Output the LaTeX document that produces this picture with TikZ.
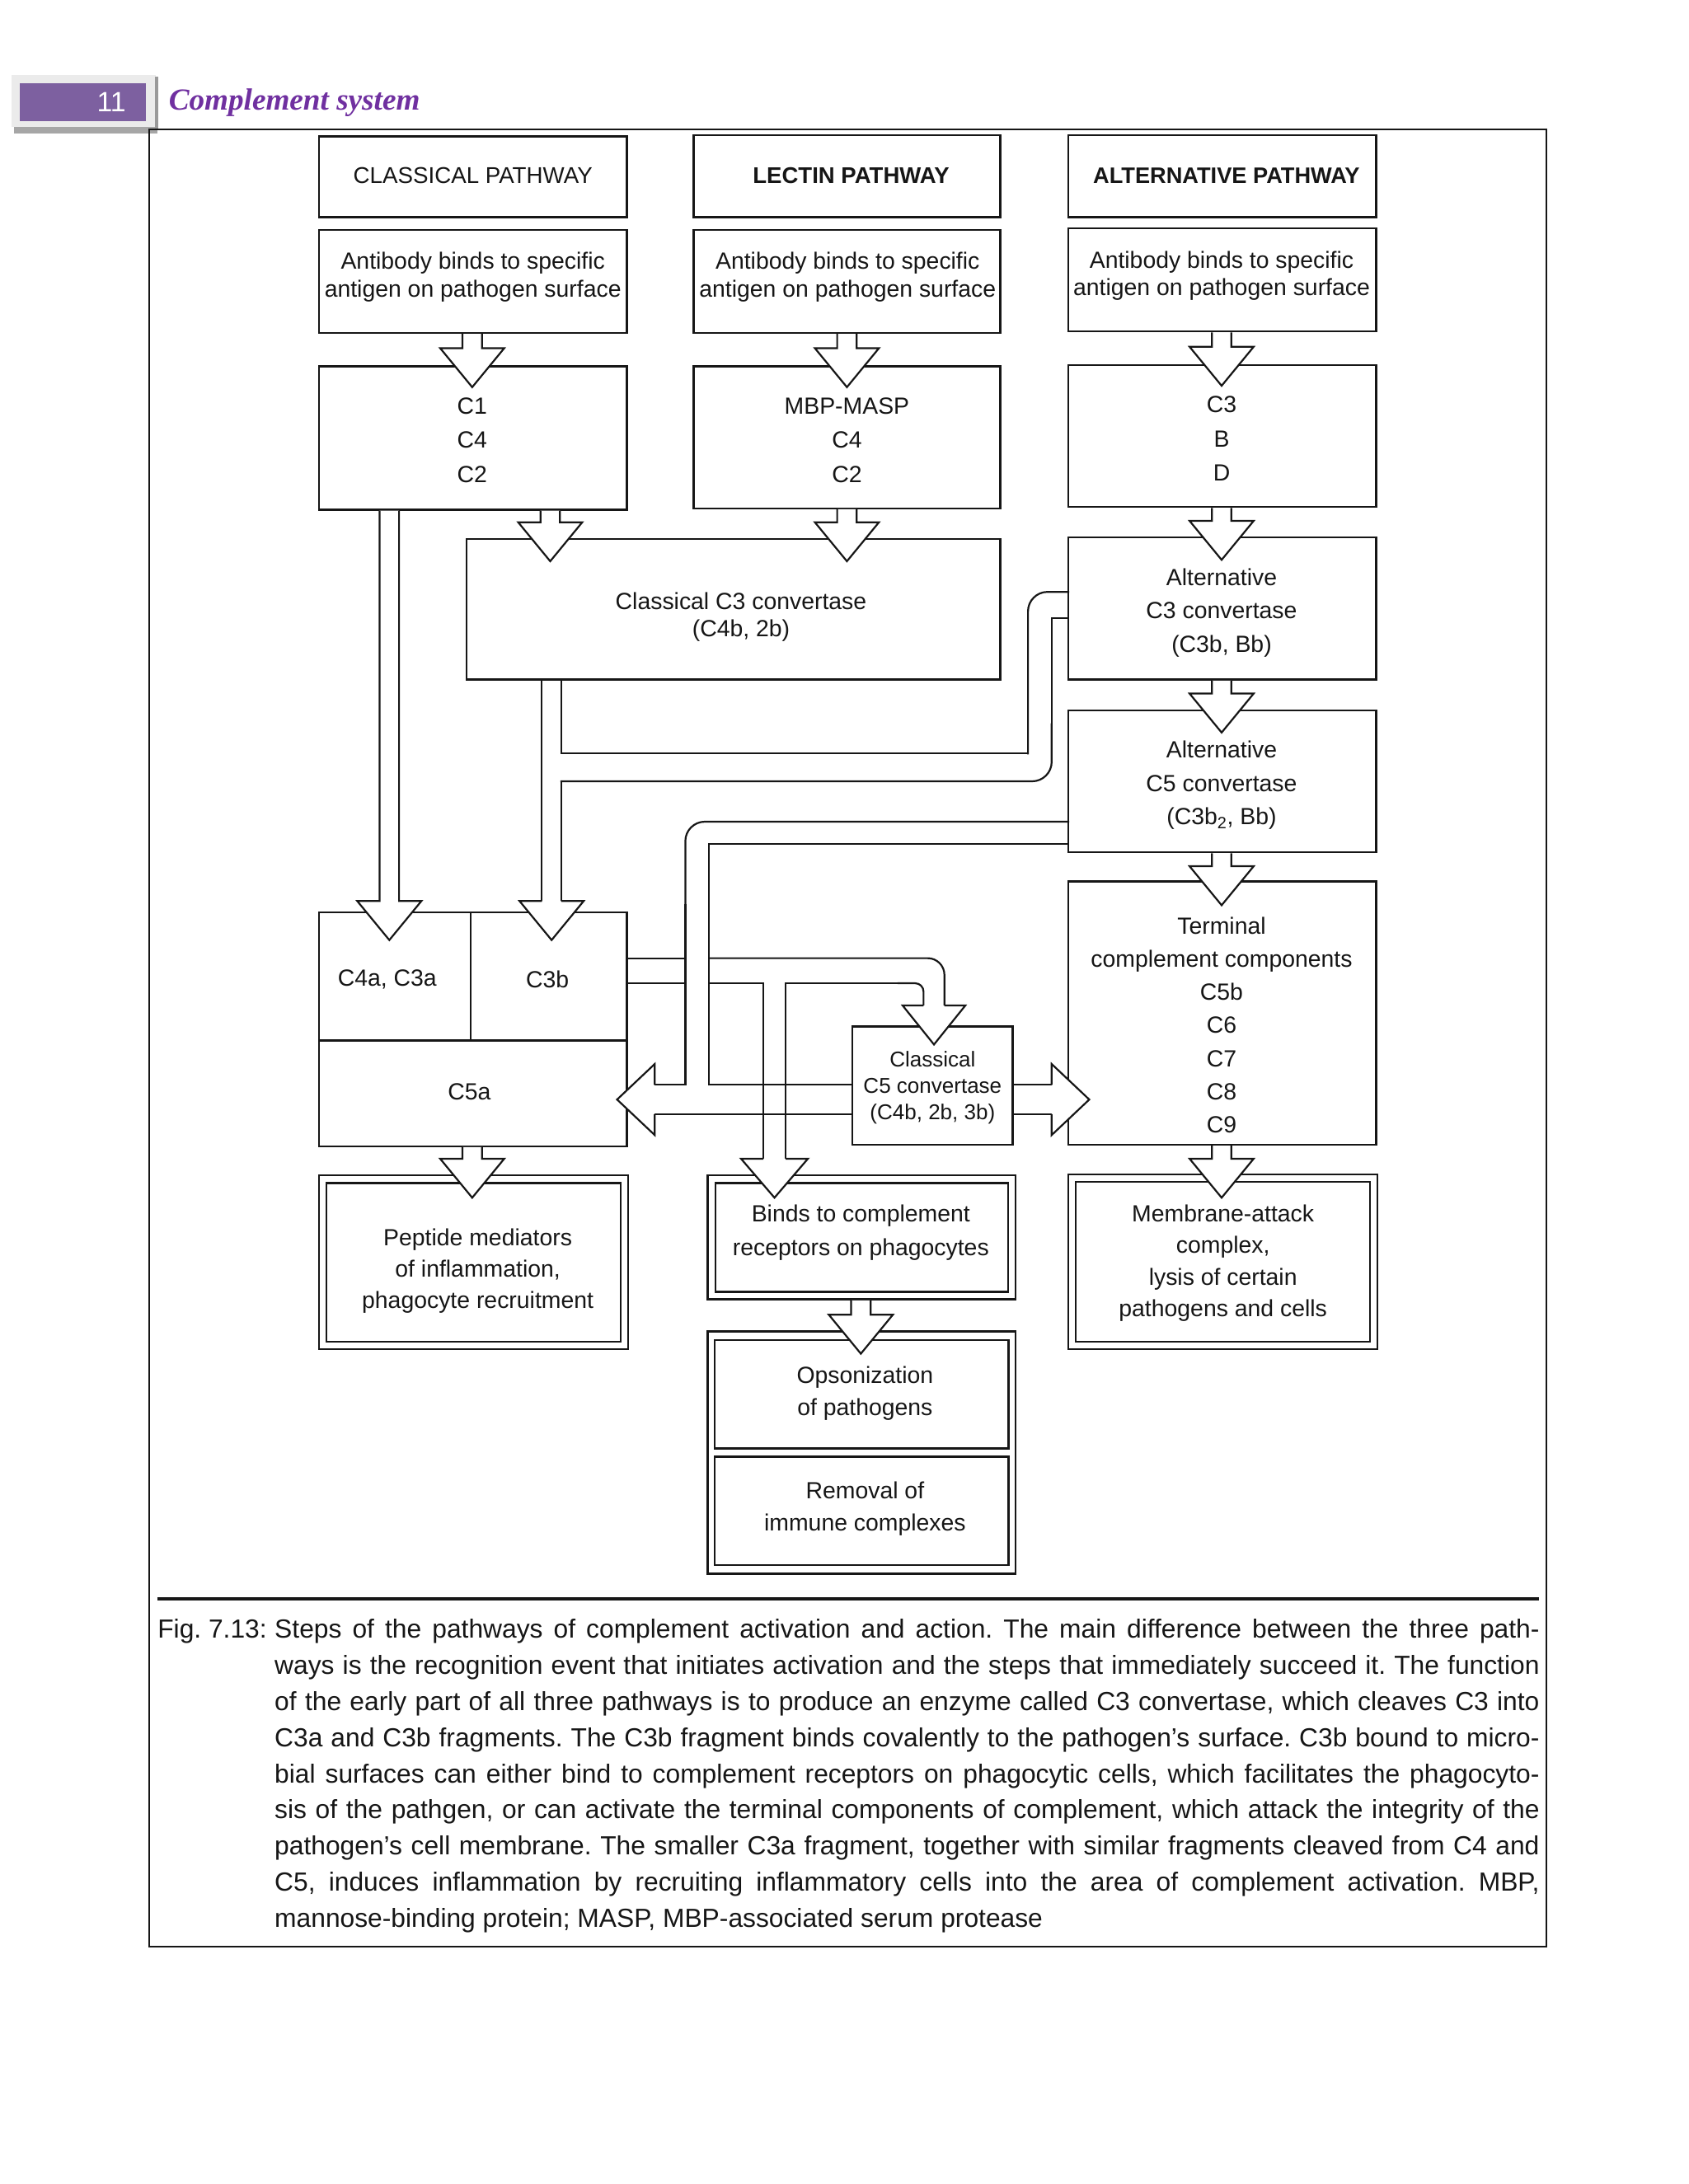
\documentclass[tikz,border=0pt]{standalone}
\usepackage{fontspec}
\setmainfont{Liberation Sans}
\newfontfamily\hdrserif{Liberation Serif}
\definecolor{ink}{HTML}{161616}
\definecolor{hdrpurple}{HTML}{7030A0}
\definecolor{tabpurple}{HTML}{7D60A0}
\newcommand{\harrowdown}[3]{\filldraw[hollow] (#1-7,#2+0.7) -- (#1-7,#3-28) -- (#1-23,#3-28) -- (#1,#3) -- (#1+23,#3-28) -- (#1+7,#3-28) -- (#1+7,#2+0.7);}
\newcommand{\bodysize}[1]{\fontsize{16.8pt}{#1}\selectfont}
\newcommand{\capline}[1]{\makebox[908pt][s]{#1}}
\frenchspacing
\begin{document}
\begin{tikzpicture}[x=1pt,y=-1pt,
  box/.style={draw=ink, line width=1.4pt, inner sep=0pt, outer sep=0pt},
  dbox/.style={draw=ink, double=white, double distance=4.1pt, line width=1.3pt, inner sep=0pt, outer sep=0pt},
  hollow/.style={draw=ink, fill=white, line width=1.3pt, line join=miter},
  wire/.style={draw=ink, line width=1.3pt, line cap=rect},
  lbl/.style={align=center, inner sep=0pt, text=ink, font=\bodysize{24pt}},
  capl/.style={anchor=base west, inner sep=0pt, text=ink, font=\fontsize{18.8pt}{26pt}\selectfont}]
\fill[white] (0,0) rectangle (1212,1568.2);
\useasboundingbox (0,0) rectangle (1212,1568.2);
% header
\fill[black!8] (8,54) rectangle (112,91);
\fill[black!35] (10,91) rectangle (113,96);
\fill[black!40] (111,55) rectangle (113.5,93);
\fill[tabpurple] (14,60) rectangle (105,87);
\node[inner sep=0pt, text=white, font=\fontsize{20pt}{24pt}\selectfont] (pnum) at (80,73.5) {11};
\node[anchor=base west, inner sep=0pt, text=hdrpurple, font=\hdrserif\bfseries\itshape\fontsize{22pt}{26pt}\selectfont] (ptitle) at (121,79) {Complement system};
% frame
\draw[ink, line width=1.2pt] (107,93) rectangle (1110,1398);
% row 1
\node[box, minimum width=221pt, minimum height=58pt] (cp) at (339.5,127) {};
\node[box, minimum width=220pt, minimum height=59pt] (lp) at (608,126.5) {};
\node[box, minimum width=221pt, minimum height=59pt] (ap) at (877.5,126.5) {};
\node[lbl, font=\fontsize{16.4pt}{20pt}\selectfont] (cpt) at (339.5,126) {CLASSICAL PATHWAY};
\node[lbl, font=\fontsize{16.3pt}{20pt}\selectfont\bfseries] (lpt) at (611,126) {LECTIN PATHWAY};
\node[lbl, font=\fontsize{16.1pt}{20pt}\selectfont\bfseries] (apt) at (880.5,126) {ALTERNATIVE PATHWAY};
% row 2
\node[box, minimum width=221pt, minimum height=74pt] (ca) at (339.5,202) {};
\node[box, minimum width=220pt, minimum height=74pt] (la) at (608,202) {};
\node[box, minimum width=221pt, minimum height=74pt] (aa) at (877.5,201) {};
\node[lbl, font=\bodysize{20pt}] (cat) at (339.5,199) {Antibody binds to specific\\antigen on pathogen surface};
\node[lbl, font=\bodysize{20pt}] (lat) at (608.5,199) {Antibody binds to specific\\antigen on pathogen surface};
\node[lbl, font=\bodysize{20pt}] (aat) at (877,198) {Antibody binds to specific\\antigen on pathogen surface};
% row 3
\node[box, minimum width=221pt, minimum height=103pt] (c3) at (339.5,314.5) {};
\node[box, minimum width=220pt, minimum height=102pt] (l3) at (608,314) {};
\node[box, minimum width=221pt, minimum height=102pt] (a3) at (877.5,313) {};
\node[lbl, font=\bodysize{24.5pt}] (c3t) at (339,316) {C1\\C4\\C2};
\node[lbl, font=\bodysize{24.5pt}] (l3t) at (608,316) {MBP-MASP\\C4\\C2};
\node[lbl, font=\bodysize{24.5pt}] (a3t) at (877,315) {C3\\B\\D};
% convertases
\node[box, minimum width=383pt, minimum height=101pt] (cc3) at (526.5,437.5) {};
\node[lbl, font=\bodysize{19pt}] (cc3t) at (532,443) {Classical C3 convertase\\(C4b, 2b)};
\node[box, minimum width=221pt, minimum height=102pt] (ac3) at (877.5,437) {};
\node[lbl] (ac3t) at (877,440) {Alternative\\C3 convertase\\(C3b, Bb)};
\node[box, minimum width=221pt, minimum height=102pt] (ac5) at (877.5,561) {};
\node[lbl] (ac5t) at (877,564) {Alternative\\C5 convertase\\(C3b\textsubscript{2}, Bb)};
\node[box, minimum width=221pt, minimum height=189pt] (tcc) at (877.5,727.5) {};
\node[lbl, font=\bodysize{23.8pt}] (tcct) at (877,736) {Terminal\\complement components\\C5b\\C6\\C7\\C8\\C9};
% fragments
\node[box, minimum width=109pt, minimum height=92pt] (c4a) at (283.5,701) {};
\node[box, minimum width=112pt, minimum height=92pt] (c3b) at (394,701) {};
\node[box, minimum width=221pt, minimum height=76pt] (c5a) at (339.5,785) {};
\node[lbl] (c4at) at (278,703) {C4a, C3a};
\node[lbl] (c3bt) at (393,703) {C3b};
\node[lbl] (c5at) at (337,784) {C5a};
\node[box, minimum width=115pt, minimum height=85pt] (cc5) at (669.5,779.5) {};
\node[lbl, font=\fontsize{15.4pt}{19pt}\selectfont] (cc5t) at (669.5,781) {Classical\\C5 convertase\\(C4b, 2b, 3b)};
% outcomes
\node[dbox, minimum width=216.5pt, minimum height=119.5pt] (pep) at (340,906.5) {};
\node[lbl, font=\bodysize{22.5pt}] (pept) at (343,912.5) {Peptide mediators\\of inflammation,\\phagocyte recruitment};
\node[dbox, minimum width=215.5pt, minimum height=83.5pt] (bnd) at (618.5,888.5) {};
\node[lbl] (bndt) at (618,885) {Binds to complement\\receptors on phagocytes};
\node[box, line width=1.3pt, minimum width=221pt, minimum height=174pt] (opo) at (618.5,1043) {};
\node[box, line width=1.3pt, minimum width=211pt, minimum height=78pt] (ops) at (618.5,1001) {};
\node[box, line width=1.3pt, minimum width=211pt, minimum height=78pt] (rem) at (618.5,1085) {};
\node[lbl, font=\bodysize{23pt}] (opst) at (621,1000.5) {Opsonization\\of pathogens};
\node[lbl, font=\bodysize{23pt}] (remt) at (621,1083.5) {Removal of\\immune complexes};
\node[dbox, minimum width=216.5pt, minimum height=120.5pt] (mem) at (878,906) {};
\node[lbl, font=\bodysize{22.7pt}] (memt) at (878,907) {Membrane-attack\\complex,\\lysis of certain\\pathogens and cells};
% pipes from alternative C3 convertase into the C3b arrow
\draw[wire] (403,488) -- (403,541) -- (738,541);
\draw[wire, rounded corners=14pt] (738,541) -- (738,425) -- (767,425);
\draw[wire] (767,444) -- (755,444) -- (755,520);
\draw[wire, rounded corners=14pt] (755,520) -- (755,561) -- (403,561);
\draw[wire] (403,561) -- (403,647);
\draw[wire] (389,488) -- (389,647);
% pipe from alternative C5 convertase into the C5a arrow
\draw[wire, rounded corners=14pt] (767,590) -- (492,590) -- (492,650);
\draw[wire] (492,650) -- (492,779) -- (470,779);
\draw[wire] (767,606) -- (509,606) -- (509,779) -- (612,779);
\draw[wire] (612,800) -- (470,800);
% C3b to classical C5 convertase
\draw[wire] (450,688) -- (492,688);
\draw[wire, rounded corners=12pt] (509,688) -- (678,688) -- (678,722);
\draw[wire] (450,706) -- (492,706);
\draw[wire] (509,706) -- (548,706) -- (548,832);
\draw[wire] (564,832) -- (564,706) -- (645,706);
\draw[wire, rounded corners=6pt] (645,706) -- (663,706) -- (663,722);
% classical C5 convertase to terminal components
\draw[wire] (727,779) -- (755,779);
\draw[wire] (727,800) -- (755,800);
% hollow arrow heads and straight hollow arrows
\harrowdown{339}{239}{278}
\harrowdown{608}{239}{278}
\harrowdown{877}{238}{277}
\harrowdown{395}{366}{403}
\harrowdown{608}{365}{403}
\harrowdown{877}{364}{402}
\harrowdown{877}{488}{526}
\harrowdown{877}{612}{650}
\harrowdown{877}{822}{860}
\harrowdown{339}{823}{860}
\harrowdown{618}{933}{972}
\harrowdown{279.5}{366}{675}
\filldraw[hollow] (389,647) -- (373,647) -- (396,675) -- (419,647) -- (403,647);
\filldraw[hollow] (663,722) -- (648,722) -- (670.5,750) -- (693,722) -- (678,722);
\filldraw[hollow] (548,832) -- (532,832) -- (556,860) -- (580,832) -- (564,832);
\filldraw[hollow] (470,779) -- (470,764) -- (443,789.5) -- (470,815) -- (470,800);
\filldraw[hollow] (755,779) -- (755,764) -- (782,789.5) -- (755,815) -- (755,800);
% caption
\draw[ink, line width=2.6pt] (113,1148) -- (1105,1148);
\node[capl] (figno) at (113,1176) {Fig. 7.13:};
\node[capl] (cap1) at (197,1176) {\capline{Steps of the pathways of complement activation and action. The main difference between the three path-}};
\node[capl] (cap2) at (197,1202) {\capline{ways is the recognition event that initiates activation and the steps that immediately succeed it. The function}};
\node[capl] (cap3) at (197,1228) {\capline{of the early part of all three pathways is to produce an enzyme called C3 convertase, which cleaves C3 into}};
\node[capl] (cap4) at (197,1254) {\capline{C3a and C3b fragments. The C3b fragment binds covalently to the pathogen's surface. C3b bound to micro-}};
\node[capl] (cap5) at (197,1280) {\capline{bial surfaces can either bind to complement receptors on phagocytic cells, which facilitates the phagocyto-}};
\node[capl] (cap6) at (197,1306) {\capline{sis of the pathgen, or can activate the terminal components of complement, which attack the integrity of the}};
\node[capl] (cap7) at (197,1332) {\capline{pathogen's cell membrane. The smaller C3a fragment, together with similar fragments cleaved from C4 and}};
\node[capl] (cap8) at (197,1358) {\capline{C5, induces inflammation by recruiting inflammatory cells into the area of complement activation. MBP,}};
\node[capl] (cap9) at (197,1384) {mannose-binding protein; MASP, MBP-associated serum protease};
\end{tikzpicture}
\end{document}
